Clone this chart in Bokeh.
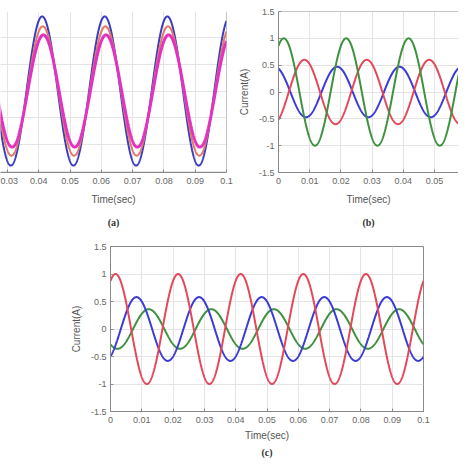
import numpy as np
from bokeh.plotting import figure
from bokeh.layouts import column, row
from bokeh.models import FixedTicker, Span, Grid, Title
from bokeh.embed import file_html
from bokeh.resources import INLINE

# ---------------- data ----------------
FREQUENCY_HZ = 50.0
TIME_END = 0.1
N_SAMPLES = 2001

x_ticks = [0.0, 0.01, 0.02, 0.03, 0.04, 0.05, 0.06, 0.07, 0.08, 0.09, 0.1]
x_tick_labels = ["0", "0.01", "0.02", "0.03", "0.04", "0.05", "0.06", "0.07", "0.08", "0.09", "0.1"]
y_ticks = [-1.5, -1.0, -0.5, 0.0, 0.5, 1.0, 1.5]
y_tick_labels = ["-1.5", "-1", "-0.5", "0", "0.5", "1", "1.5"]
a_grid_ticks = [-300, -200, -100, 0, 100, 200, 300]

# panel (a): three sinusoidal waveforms (amplitude, time of a peak)
a_series = ["outer", "middle", "inner"]
a_amplitude = [278, 241, 209]
a_peak_time = [0.0411, 0.0413, 0.0415]

# panel (b): Current(A)
b_series = ["blue", "red", "green"]
b_amplitude = [0.47, 0.60, 1.00]
b_peak_time = [-0.0012, 0.0083, 0.0017]

# panel (c): Current(A)
c_series = ["green", "blue", "red"]
c_amplitude = [0.36, 0.58, 1.00]
c_peak_time = [0.0122, 0.0083, 0.0016]

# ---------------- styles ----------------
A_COLORS = ["#3b3bc4", "#e07a62", "#e232c2"]
A_WIDTHS = [2, 2, 3]
COLOR_MAP = {"red": "#e5485a", "green": "#3f913f", "blue": "#3b3bd6"}
GRID = "#e4e4e4"
AXIS = "#8a8a8a"
TICK_TXT = "#666666"
SANS = "Liberation Sans"
SERIF = "Liberation Serif"

t = np.linspace(0.0, TIME_END, N_SAMPLES)


def wave(amp, tp):
    return amp * np.cos(2 * np.pi * FREQUENCY_HZ * (t - tp))


def style_axes(p):
    p.background_fill_color = "white"
    p.border_fill_color = "white"
    p.xgrid.grid_line_color = GRID
    p.ygrid.grid_line_color = GRID
    for ax in p.axis:
        ax.axis_line_color = AXIS
        ax.major_tick_line_color = AXIS
        ax.major_tick_in = 3
        ax.major_tick_out = 0
        ax.minor_tick_line_color = None
        ax.major_label_text_font = SANS
        ax.major_label_text_font_size = "9px"
        ax.major_label_text_color = TICK_TXT
        ax.axis_label_text_font = SANS
        ax.axis_label_text_font_size = "10px"
        ax.axis_label_text_font_style = "normal"
        ax.axis_label_text_color = "#555555"
    p.xaxis.ticker = FixedTicker(ticks=x_ticks)
    p.xaxis.major_label_overrides = dict(zip(x_ticks, x_tick_labels))
    p.xaxis.major_label_standoff = 5


def bottom_titles(p, off_title, off_tag, st_title, st_tag, tag):
    p.add_layout(Title(text="Time(sec)", align="center", offset=off_title, standoff=st_title,
                       text_font=SANS, text_font_size="10px", text_font_style="normal",
                       text_color="#555555"), "below")
    p.add_layout(Title(text=tag, align="center", offset=off_tag, standoff=st_tag,
                       text_font=SERIF, text_font_size="10px", text_font_style="bold",
                       text_color="#333333"), "below")


# top row: both panels share the same top/bottom borders (the row aligns them)
TOP_BORDER = 11
BOTTOM_BORDER = 59
FRAME_BOTTOM = 232 - BOTTOM_BORDER

# ---------------- panel (a) ----------------
a_px_per_sec = 3130.0
a_px_per_unit = 0.27
a_zero_px = 91
a_x_start = 0.1 - 226 / a_px_per_sec
fa = figure(width=234, height=232, x_range=(a_x_start, 0.1),
            y_range=(-(FRAME_BOTTOM - a_zero_px) / a_px_per_unit,
                     (a_zero_px - TOP_BORDER) / a_px_per_unit),
            output_backend="svg", toolbar_location=None, y_axis_location=None,
            title_location=None,
            min_border_left=0, min_border_top=TOP_BORDER, min_border_right=8,
            min_border_bottom=BOTTOM_BORDER)
fa.outline_line_color = None
style_axes(fa)
fa.add_layout(Grid(dimension=1, ticker=FixedTicker(ticks=a_grid_ticks), grid_line_color=GRID))
fa.add_layout(Span(location=0.1, dimension="height", line_color=AXIS, line_width=1))
for amp, tp, col, w in zip(a_amplitude, a_peak_time, A_COLORS, A_WIDTHS):
    fa.line(t, wave(amp, tp), line_color=col, line_width=w)
bottom_titles(fa, -43, -43, 10, 10, "(a)")

# ---------------- panel (b) ----------------
b_px_per_sec = 3120.0
fb = figure(width=224, height=232, x_range=(0.0, 180 / b_px_per_sec), y_range=(-1.5, 1.5),
            output_backend="svg", toolbar_location=None, title_location=None,
            min_border_left=44, min_border_top=TOP_BORDER, min_border_right=0,
            min_border_bottom=BOTTOM_BORDER)
fb.outline_line_color = None
style_axes(fb)
fb.yaxis.ticker = FixedTicker(ticks=y_ticks)
fb.yaxis.major_label_overrides = dict(zip(y_ticks, y_tick_labels))
fb.yaxis.major_label_standoff = 4
fb.yaxis.axis_label = "Current(A)"
fb.yaxis.axis_label_standoff = 6
fb.add_layout(Span(location=1.5, dimension="width", line_color=AXIS, line_width=1))
for name, amp, tp in zip(b_series, b_amplitude, b_peak_time):
    fb.line(t, wave(amp, tp), line_color=COLOR_MAP[name], line_width=2)
bottom_titles(fb, 68, 64, 10, 10, "(b)")

# ---------------- panel (c) ----------------
fc = figure(width=458, height=226, x_range=(0.0, 0.1), y_range=(-1.5, 1.5),
            output_backend="svg", toolbar_location=None, title_location=None,
            min_border_left=110, min_border_top=14, min_border_right=35, min_border_bottom=45)
fc.outline_line_color = AXIS
style_axes(fc)
fc.yaxis.ticker = FixedTicker(ticks=y_ticks)
fc.yaxis.major_label_overrides = dict(zip(y_ticks, y_tick_labels))
fc.yaxis.major_label_standoff = 4
fc.yaxis.axis_label = "Current(A)"
fc.yaxis.axis_label_standoff = 6
for name, amp, tp in zip(c_series, c_amplitude, c_peak_time):
    fc.line(t, wave(amp, tp), line_color=COLOR_MAP[name], line_width=2)
bottom_titles(fc, 0, -1, 5, 2, "(c)")

layout = column(row(fa, fb, spacing=0), fc, spacing=0)
open("out.html", "w").write(file_html(layout, INLINE))
